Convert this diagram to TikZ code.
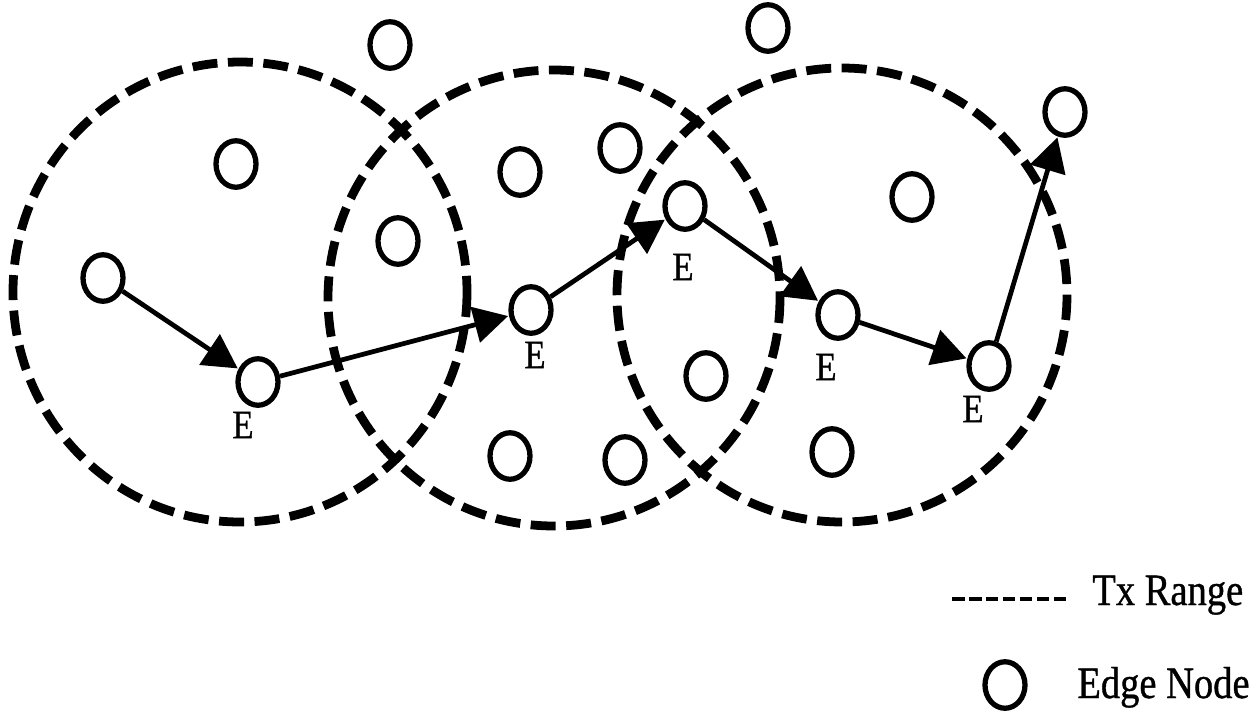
\documentclass[tikz,border=0pt]{standalone}
\usepackage{fontspec}
\setmainfont{Liberation Serif}
\newfontfamily\diagfont[FakeStretch=0.86,FakeBold=0.8]{Liberation Serif}
\usetikzlibrary{shapes.geometric,arrows.meta}
\begin{document}
\begin{tikzpicture}[x=0.02cm,y=-0.02cm,
  enode/.style={draw,ellipse,line width=3pt,inner sep=0pt,minimum width=0.8cm,minimum height=0.93cm},
  elabel/.style={font=\diagfont\fontsize{23}{23}\selectfont,inner sep=0pt},
  txrange/.style={line width=5pt,dash pattern=on 0.5cm off 0.21cm},
  hop/.style={line width=2.7pt,-{Triangle[length=0.68cm,width=0.72cm]},shorten >=0.5pt},
  legtext/.style={font=\diagfont\fontsize{25.5}{25.5}\selectfont,anchor=base west,inner sep=0pt}]
\useasboundingbox (0,0) rectangle (1255,718);
\fill[white] (0,0) rectangle (1255,718);
% transmission ranges
\draw[txrange] (240,292) ellipse [x radius=227,y radius=230];
\draw[txrange] (554,298) ellipse [x radius=226,y radius=228];
\draw[txrange] (842,295) ellipse [x radius=225,y radius=227];
% nodes
\node[enode] (n1) at (390,45) {};
\node[enode] (n2) at (236,164) {};
\node[enode] (n3) at (398,241) {};
\node[enode] (n4) at (103,278) {};
\node[enode] (n5) at (258,382) {};
\node[enode] (n6) at (520,172) {};
\node[enode] (n7) at (620,148) {};
\node[enode] (n8) at (531,310) {};
\node[enode] (n9) at (768,28) {};
\node[enode] (n10) at (685,206) {};
\node[enode] (n11) at (912,197) {};
\node[enode] (n12) at (1065,112) {};
\node[enode] (n13) at (838,315) {};
\node[enode] (n14) at (989,366) {};
\node[enode] (n15) at (706,376) {};
\node[enode] (n16) at (510,456) {};
\node[enode] (n17) at (625,460) {};
\node[enode] (n18) at (832,452) {};
% labels
\node[elabel] (e5) at (243,425) {E};
\node[elabel] (e8) at (535,355) {E};
\node[elabel] (e10) at (683,267) {E};
\node[elabel] (e13) at (826,367) {E};
\node[elabel] (e14) at (973,409) {E};
% hops
\draw[hop] (n4) -- (n5);
\draw[hop] (n5) -- (n8);
\draw[hop] (n8) -- (n10);
\draw[hop] (n10) -- (n13);
\draw[hop] (n13) -- (n14);
\draw[hop] (n14) -- (n12);
% legend
\coordinate (la) at (952,599);
\coordinate (lb) at (1070,599);
\draw[line width=2.6pt,dash pattern=on 0.25cm off 0.09cm] (la) -- (lb);
\node[legtext] (lt1) at (1092,605) {Tx Range};
\node[enode] (ln) at (1005,685) {};
\node[legtext] (lt2) at (1077,698) {Edge Node};
\end{tikzpicture}
\end{document}
